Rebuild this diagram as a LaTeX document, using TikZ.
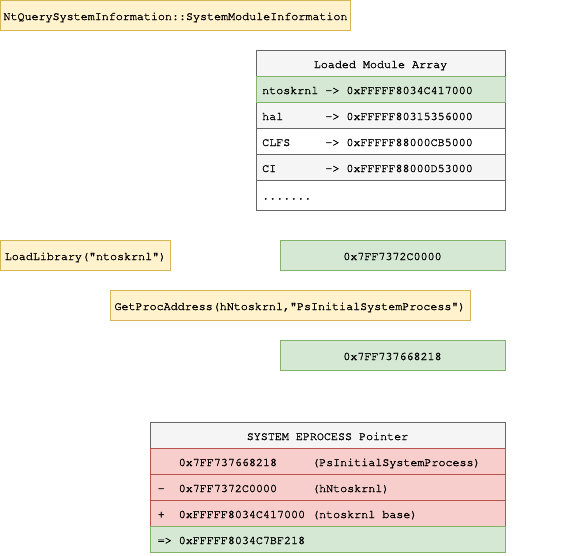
\documentclass[tikz,border=0pt]{standalone}
\usepackage[T1]{fontenc}
\usepackage{courier}
\definecolor{callfill}{HTML}{FFF2CC}
\definecolor{callline}{HTML}{D6B656}
\definecolor{okfill}{HTML}{D5E8D4}
\definecolor{okline}{HTML}{82B366}
\definecolor{badfill}{HTML}{F8CECC}
\definecolor{badline}{HTML}{B85450}
\definecolor{headfill}{HTML}{F5F5F5}
\definecolor{headline}{HTML}{666666}
\tikzset{
  callbox/.style={draw=callline,fill=callfill,line width=1pt},
  okbox/.style={draw=okline,fill=okfill,line width=1pt},
  badbox/.style={draw=badline,fill=badfill,line width=1pt},
  headbox/.style={draw=headline,fill=headfill,line width=1pt},
  plainbox/.style={draw=headline,fill=white,line width=1pt},
  txt/.style={font=\ttfamily\fontsize{11.7}{14}\selectfont,inner sep=0pt,text height=9pt,text depth=0pt,
    execute at begin node=\special{pdf:literal direct 2 Tr 0.18 w},
    execute at end node=\special{pdf:literal direct 0 Tr}}
}

\begin{document}
\begin{tikzpicture}[x=1pt,y=-1pt]
\useasboundingbox (0,0) rectangle (570,555);

% module query
\draw[callbox] (0.5,0.5) rectangle (350.5,30.5);
\node[txt] (query) at (175.5,15.5) {NtQuerySystemInformation::SystemModuleInformation};

% loaded module array
\draw[headbox] (256,50.5) rectangle (505,76.5);
\node[txt] (modhead) at (380.5,63.5) {Loaded Module Array};
\draw[headbox] (256,102.5) rectangle (505,128.5);
\draw[plainbox] (256,128.5) rectangle (505,154.5);
\draw[headbox] (256,154.5) rectangle (505,180.5);
\draw[plainbox] (256,180.5) rectangle (505,210);
\draw[okbox] (256,76.5) rectangle (505,102.5);
\node[txt,anchor=west] (modntos) at (262,89.5) {ntoskrnl~->~0xFFFFF8034C417000};
\node[txt,anchor=west] (modhal) at (262,115.5) {hal~~~~~~->~0xFFFFF80315356000};
\node[txt,anchor=west] (modclfs) at (262,141.5) {CLFS~~~~~->~0xFFFFF88000CB5000};
\node[txt,anchor=west] (modci) at (262,167.5) {CI~~~~~~~->~0xFFFFF88000D53000};
\node[txt,anchor=west] (moddots) at (262,195) {.......};

% user mode lookups
\draw[callbox] (0.5,240.5) rectangle (170.5,270.5);
\node[txt] (loadlib) at (85.5,255.5) {LoadLibrary("ntoskrnl")};
\draw[okbox] (280.5,240.5) rectangle (505,270.5);
\node[txt] (hbase) at (392.5,255.5) {0x7FF7372C0000};
\draw[callbox] (110.5,290.5) rectangle (470,320.5);
\node[txt] (getproc) at (290,305.5) {GetProcAddress(hNtoskrnl,"PsInitialSystemProcess")};
\draw[okbox] (280.5,340.5) rectangle (505,370.5);
\node[txt] (procaddr) at (392.5,355.5) {0x7FF737668218};

% pointer arithmetic
\draw[headbox] (150.5,422.5) rectangle (505,448.5);
\node[txt] (sumhead) at (327.5,435.5) {SYSTEM EPROCESS Pointer};
\draw[badbox] (150.5,448.5) rectangle (505,474.5);
\draw[badbox] (150.5,474.5) rectangle (505,500.5);
\draw[badbox] (150.5,500.5) rectangle (505,526.5);
\draw[okbox] (150.5,526.5) rectangle (505,552.5);
\node[txt,anchor=west] (sumproc) at (157.5,461.5) {~~~0x7FF737668218~~~~~(PsInitialSystemProcess)};
\node[txt,anchor=west] (sumhnd) at (157.5,487.5) {-~~0x7FF7372C0000~~~~~(hNtoskrnl)};
\node[txt,anchor=west] (sumbase) at (157.5,513.5) {+~~0xFFFFF8034C417000~(ntoskrnl base)};
\node[txt,anchor=west] (sumres) at (157.5,539.5) {=>~0xFFFFF8034C7BF218};
\end{tikzpicture}
\end{document}
